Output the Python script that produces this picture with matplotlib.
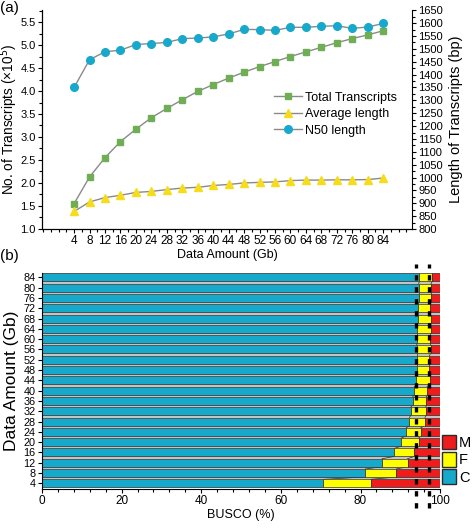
import numpy as np
import matplotlib
matplotlib.use('Agg')
import matplotlib.pyplot as plt
from matplotlib.ticker import MultipleLocator
from matplotlib.patches import Patch

plt.rcParams['font.family'] = ['Liberation Sans', 'DejaVu Sans']

# 数据
gb = [4, 8, 12, 16, 20, 24, 28, 32, 36, 40, 44, 48, 52, 56, 60, 64, 68, 72, 76, 80, 84]
total_tx = [1.55, 2.13, 2.55, 2.90, 3.17, 3.42, 3.62, 3.81, 3.99, 4.14, 4.28,
            4.41, 4.53, 4.64, 4.75, 4.85, 4.95, 5.05, 5.14, 5.22, 5.31]
avg_len = [868, 905, 922, 931, 942, 946, 953, 959, 962, 969, 973,
           979, 981, 983, 988, 990, 990, 991, 991, 992, 998]
n50_len = [1350, 1458, 1489, 1495, 1517, 1521, 1525, 1540, 1542, 1547, 1558,
           1576, 1575, 1572, 1584, 1584, 1588, 1590, 1580, 1585, 1599]

busco_c = [70.7, 81.2, 85.4, 88.5, 90.2, 91.5, 92.3, 92.6, 93.1, 93.5, 94.0,
           94.1, 94.1, 94.1, 94.2, 94.2, 94.5, 94.5, 94.6, 94.6, 94.8]
busco_f = [11.9, 7.8, 6.4, 5.0, 4.4, 3.6, 3.9, 3.8, 3.4, 3.2, 3.5,
           3.2, 3.2, 3.5, 3.3, 3.5, 3.1, 2.9, 3.1, 3.1, 3.2]
busco_m = [100 - c - f for c, f in zip(busco_c, busco_f)]
ref_lines = [94.0, 97.1]

c_cyan = '#17a9cc'
c_green = '#6fae55'
c_yellow = '#f7dc1a'
c_line = '#8a8a8a'

fig = plt.figure(figsize=(4.74, 5.30), dpi=100)

# (a) 折线图
ax1 = fig.add_axes([0.0886, 0.568, 0.781, 0.413])
ax2 = ax1.twinx()

l1, = ax1.plot(gb, total_tx, color=c_line, lw=1, marker='s', ms=5,
               mfc=c_green, mec=c_green, label='Total Transcripts')
l2, = ax2.plot(gb, avg_len, color=c_line, lw=1, marker='^', ms=5.5,
               mfc=c_yellow, mec=c_yellow, label='Average length')
l3, = ax2.plot(gb, n50_len, color=c_line, lw=1, marker='o', ms=5.5,
               mfc=c_cyan, mec=c_cyan, label='N50 length')

ax1.set_xlim(-4.3, 91.5)
ax1.set_ylim(1.0, 5.76)
ax2.set_ylim(800, 1651)
ax1.set_xticks(gb)
ax1.xaxis.set_minor_locator(MultipleLocator(2))
ax1.yaxis.set_major_locator(MultipleLocator(0.5))
ax1.yaxis.set_minor_locator(MultipleLocator(0.25))
ax1.yaxis.set_major_formatter(plt.FormatStrFormatter('%.1f'))
ax2.yaxis.set_major_locator(MultipleLocator(50))
ax2.yaxis.set_minor_locator(MultipleLocator(25))

for ax in (ax1, ax2):
    ax.spines['top'].set_visible(False)
    ax.tick_params(labelsize=8, width=0.8, length=3, pad=1.5)
    ax.tick_params(which='minor', width=0.8, length=2)
ax1.spines['right'].set_visible(False)
ax1.tick_params(axis='x', labelsize=8.5)

ax1.set_xlabel('Data Amount (Gb)', fontsize=9, labelpad=1)
ax1.set_ylabel('No. of Transcripts (×10$^5$)', fontsize=9.8, labelpad=0)
ax2.set_ylabel('Length of Transcripts (bp)', fontsize=10.5, labelpad=4)

ax1.legend(handles=[l1, l2, l3], loc='upper left', bbox_to_anchor=(0.61, 0.655),
           frameon=False, fontsize=9, handlelength=2.2, handletextpad=0.3,
           labelspacing=0.35, borderpad=0)

# (b) BUSCO 堆叠条形图
bx = fig.add_axes([0.0886, 0.0774, 0.84, 0.4075])
h = 3.1
edge = '#2b2b2b'
bx.barh(gb, busco_c, height=h, color=c_cyan, edgecolor=edge, lw=0.5, zorder=2)
bx.barh(gb, busco_f, left=busco_c, height=h, color='#ffff00', edgecolor=edge,
        lw=0.5, zorder=2)
bx.barh(gb, busco_m, left=[c + f for c, f in zip(busco_c, busco_f)], height=h,
        color='#ee1c1c', edgecolor=edge, lw=0.5, zorder=2)

# 条形之间的灰色间隔与连接线
for i in range(len(gb) - 1):
    y0 = gb[i] + h / 2
    y1 = gb[i + 1] - h / 2
    bx.fill_between([0, 100], y0, y1, color='#c4c4c4', lw=0, zorder=1)
    bx.plot([busco_c[i], busco_c[i + 1]], [y0, y1], color=edge, lw=0.5, zorder=1.5)
    cf0 = busco_c[i] + busco_f[i]
    cf1 = busco_c[i + 1] + busco_f[i + 1]
    bx.plot([cf0, cf1], [y0, y1], color=edge, lw=0.5, zorder=1.5)

for xv in ref_lines:
    bx.axvline(xv, ymin=-0.09, ymax=1.04, color='black', lw=2.4,
               ls=(0, (1.6, 2.0)), clip_on=False, zorder=3)

bx.set_xlim(0, 100)
bx.set_ylim(1.8, 85.7)
bx.set_yticks(gb)
bx.xaxis.set_major_locator(MultipleLocator(20))
bx.xaxis.set_minor_locator(MultipleLocator(4))
bx.spines['top'].set_visible(False)
bx.spines['right'].set_visible(False)
bx.tick_params(labelsize=8.5, width=0.8, length=3, pad=1.5)
bx.tick_params(axis='y', labelsize=7.8)
bx.tick_params(which='minor', width=0.8, length=2)
bx.set_xlabel('BUSCO (%)', fontsize=9, labelpad=1)
bx.set_ylabel('Data Amount (Gb)', fontsize=12.5, labelpad=3)

handles = [Patch(facecolor='#ee1c1c', edgecolor=edge, label='M'),
           Patch(facecolor='#ffff00', edgecolor=edge, label='F'),
           Patch(facecolor=c_cyan, edgecolor=edge, label='C')]
bx.legend(handles=handles, loc='lower left', bbox_to_anchor=(1.005, 0.02),
          frameon=False, fontsize=10.5, handlelength=0.95, handleheight=1.15,
          handletextpad=0.2, labelspacing=0.15, borderpad=0, borderaxespad=0)

fig.text(0.0, 0.998, '(a)', fontsize=11, va='top', ha='left')
fig.text(0.0, 0.53, '(b)', fontsize=11, va='top', ha='left')

fig.savefig('out.png', dpi=100)
